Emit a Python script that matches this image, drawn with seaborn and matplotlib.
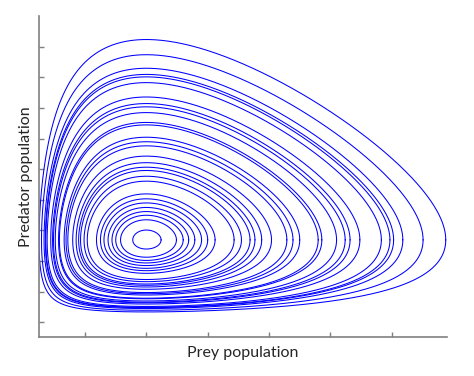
import numpy as np
import pandas as pd
import matplotlib.pyplot as plt
import seaborn as sns

# prey value where each orbit crosses the equilibrium predator level (right side)
prey_at_max = [2.24, 2.49, 2.60, 2.69, 2.79, 2.90, 3.00, 3.12, 3.43, 3.55,
               3.69, 3.77, 3.88, 4.04, 4.29, 4.39, 4.50, 4.80, 4.86, 5.10,
               5.24, 5.32, 5.48, 5.83, 5.97, 6.03, 6.18, 6.51, 6.88]

# Lotka-Volterra model: dx = a x - b x y, dy = c x y - d y
prey_eq = 2.0
pred_eq = 2.69
c = 1.0
d = c * prey_eq
b = 0.747
a = b * pred_eq

x_ticks = [1, 2, 3, 4, 5, 6]
y_ticks = [0, 1, 2, 3, 4, 5, 6, 7, 8, 9]


def deriv(s):
    x, y = s
    return np.array([a * x - b * x * y, c * x * y - d * y])


def orbit(x0, dt=0.002):
    s = np.array([x0, pred_eq])
    pts = [s.copy()]
    total, prev = 0.0, 0.0
    for _ in range(100000):
        k1 = deriv(s)
        k2 = deriv(s + dt / 2 * k1)
        k3 = deriv(s + dt / 2 * k2)
        k4 = deriv(s + dt * k3)
        s = s + dt / 6 * (k1 + 2 * k2 + 2 * k3 + k4)
        ang = np.arctan2(s[1] - pred_eq, s[0] - prey_eq)
        da = (ang - prev + np.pi) % (2 * np.pi) - np.pi
        total += da
        prev = ang
        if total >= 2 * np.pi:
            break
        pts.append(s.copy())
    pts.append(pts[0])
    return np.array(pts)


frames = []
for i, x0 in enumerate(prey_at_max):
    p = orbit(x0)
    frames.append(pd.DataFrame({"prey": p[:, 0], "predator": p[:, 1], "orbit": i}))
df = pd.concat(frames, ignore_index=True)

sns.set_style("white")
plt.rcParams["font.family"] = ["Lato", "DejaVu Sans"]

fig = plt.figure(figsize=(4.74, 3.76), dpi=100)
ax = fig.add_axes([39 / 474, 1 - 337 / 376, 408 / 474, 321 / 376])

sns.lineplot(data=df, x="prey", y="predator", units="orbit", estimator=None,
             sort=False, color="blue", linewidth=0.75, ax=ax)

ax.set_xlim(0.25, 6.9)
ax.set_ylim(-0.48, 10.0)
ax.set_xticks(x_ticks)
ax.set_yticks(y_ticks)
ax.set_xticklabels([])
ax.set_yticklabels([])
ax.tick_params(bottom=True, left=True, direction="in", length=3.5, width=1, color="#808080")
sns.despine(ax=ax)
for sp in ["left", "bottom"]:
    ax.spines[sp].set_color("#808080")
    ax.spines[sp].set_linewidth(1.2)

ax.set_xlabel("Prey population", fontsize=11.5, labelpad=3)
ax.set_ylabel("Predator population", fontsize=11.5, labelpad=1)

fig.savefig("out.png", dpi=100)
